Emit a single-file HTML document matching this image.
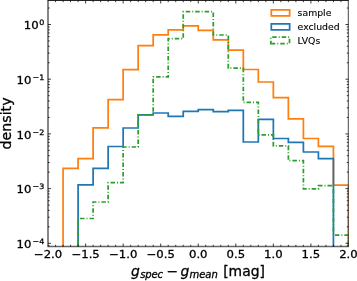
<!DOCTYPE html>
<html><head><meta charset="utf-8"><style>
html,body{margin:0;padding:0;background:#fff;width:357px;height:281px;overflow:hidden}
svg{display:block}
text{font-family:"DejaVu Sans","Liberation Sans",sans-serif;stroke:#000;stroke-width:0.3px}
</style></head><body><svg width="357" height="281" viewBox="0 0 357 281"><defs><clipPath id="ax"><rect x="48.0" y="0.5" width="300.5" height="246.0"/></clipPath></defs><g clip-path="url(#ax)" fill="none" stroke-width="1.74" stroke-linejoin="miter" stroke-linecap="butt"><path d="M63.07,260.00 L63.07,168.40 L78.09,168.40 L78.09,158.70 L93.11,158.70 L93.11,127.90 L108.13,127.90 L108.13,99.70 L123.15,99.70 L123.15,69.60 L138.17,69.60 L138.17,45.70 L153.19,45.70 L153.19,34.90 L168.21,34.90 L168.21,29.80 L183.23,29.80 L183.23,25.90 L198.25,25.90 L198.25,30.30 L213.27,30.30 L213.27,39.80 L228.29,39.80 L228.29,50.20 L243.31,50.20 L243.31,69.50 L258.33,69.50 L258.33,82.00 L273.35,82.00 L273.35,97.60 L288.37,97.60 L288.37,118.90 L303.39,118.90 L303.39,138.50 L318.41,138.50 L318.41,146.40 L333.43,146.40 L333.43,185.10 L348.45,185.10 L348.45,260.00" stroke="#ff7f0e"/><path d="M78.09,260.00 L78.09,184.80 L93.11,184.80 L93.11,168.40 L108.13,168.40 L108.13,146.50 L123.15,146.50 L123.15,128.00 L138.17,128.00 L138.17,114.90 L153.19,114.90 L153.19,113.00 L168.21,113.00 L168.21,116.30 L183.23,116.30 L183.23,111.30 L198.25,111.30 L198.25,109.70 L213.27,109.70 L213.27,111.60 L228.29,111.60 L228.29,110.40 L243.31,110.40 L243.31,142.00 L258.33,142.00 L258.33,119.30 L273.35,119.30 L273.35,138.50 L288.37,138.50 L288.37,142.40 L303.39,142.40 L303.39,152.00 L318.41,152.00 L318.41,158.70 L333.43,158.70 L333.43,260.00" stroke="#1f77b4"/><path d="M78.09,260.00 L78.09,218.50 L93.11,218.50 L93.11,202.00 L108.13,202.00 L108.13,182.70 L123.15,182.70 L123.15,147.00 L138.17,147.00 L138.17,114.90 L153.19,114.90 L153.19,76.80 L168.21,76.80 L168.21,38.60 L183.23,38.60 L183.23,11.70 L198.25,11.70 L198.25,11.70 L213.27,11.70 L213.27,35.00 L228.29,35.00 L228.29,68.20 L243.31,68.20 L243.31,102.40 L258.33,102.40 L258.33,134.80 L273.35,134.80 L273.35,145.90 L288.37,145.90 L288.37,160.70 L303.39,160.70 L303.39,188.80 L318.41,188.80 L318.41,185.70 L333.43,185.70 L333.43,235.10 L348.45,235.10 L348.45,260.00" stroke="#2ca02c" stroke-dasharray="4.5 1.99 1.0 1.98" stroke-dashoffset="3.94"/></g><g stroke="#000" stroke-opacity="0.8"><line x1="55.56" y1="246.5" x2="55.56" y2="244.80" stroke-width="0.95"/><line x1="55.56" y1="0.5" x2="55.56" y2="2.20" stroke-width="0.95"/><line x1="63.07" y1="246.5" x2="63.07" y2="244.80" stroke-width="0.95"/><line x1="63.07" y1="0.5" x2="63.07" y2="2.20" stroke-width="0.95"/><line x1="70.58" y1="246.5" x2="70.58" y2="244.80" stroke-width="0.95"/><line x1="70.58" y1="0.5" x2="70.58" y2="2.20" stroke-width="0.95"/><line x1="78.09" y1="246.5" x2="78.09" y2="244.80" stroke-width="0.95"/><line x1="78.09" y1="0.5" x2="78.09" y2="2.20" stroke-width="0.95"/><line x1="85.60" y1="246.5" x2="85.60" y2="243.50" stroke-width="0.95"/><line x1="85.60" y1="0.5" x2="85.60" y2="3.50" stroke-width="0.95"/><line x1="93.11" y1="246.5" x2="93.11" y2="244.80" stroke-width="0.95"/><line x1="93.11" y1="0.5" x2="93.11" y2="2.20" stroke-width="0.95"/><line x1="100.62" y1="246.5" x2="100.62" y2="244.80" stroke-width="0.95"/><line x1="100.62" y1="0.5" x2="100.62" y2="2.20" stroke-width="0.95"/><line x1="108.13" y1="246.5" x2="108.13" y2="244.80" stroke-width="0.95"/><line x1="108.13" y1="0.5" x2="108.13" y2="2.20" stroke-width="0.95"/><line x1="115.64" y1="246.5" x2="115.64" y2="244.80" stroke-width="0.95"/><line x1="115.64" y1="0.5" x2="115.64" y2="2.20" stroke-width="0.95"/><line x1="123.15" y1="246.5" x2="123.15" y2="243.50" stroke-width="0.95"/><line x1="123.15" y1="0.5" x2="123.15" y2="3.50" stroke-width="0.95"/><line x1="130.66" y1="246.5" x2="130.66" y2="244.80" stroke-width="0.95"/><line x1="130.66" y1="0.5" x2="130.66" y2="2.20" stroke-width="0.95"/><line x1="138.17" y1="246.5" x2="138.17" y2="244.80" stroke-width="0.95"/><line x1="138.17" y1="0.5" x2="138.17" y2="2.20" stroke-width="0.95"/><line x1="145.68" y1="246.5" x2="145.68" y2="244.80" stroke-width="0.95"/><line x1="145.68" y1="0.5" x2="145.68" y2="2.20" stroke-width="0.95"/><line x1="153.19" y1="246.5" x2="153.19" y2="244.80" stroke-width="0.95"/><line x1="153.19" y1="0.5" x2="153.19" y2="2.20" stroke-width="0.95"/><line x1="160.70" y1="246.5" x2="160.70" y2="243.50" stroke-width="0.95"/><line x1="160.70" y1="0.5" x2="160.70" y2="3.50" stroke-width="0.95"/><line x1="168.21" y1="246.5" x2="168.21" y2="244.80" stroke-width="0.95"/><line x1="168.21" y1="0.5" x2="168.21" y2="2.20" stroke-width="0.95"/><line x1="175.72" y1="246.5" x2="175.72" y2="244.80" stroke-width="0.95"/><line x1="175.72" y1="0.5" x2="175.72" y2="2.20" stroke-width="0.95"/><line x1="183.23" y1="246.5" x2="183.23" y2="244.80" stroke-width="0.95"/><line x1="183.23" y1="0.5" x2="183.23" y2="2.20" stroke-width="0.95"/><line x1="190.74" y1="246.5" x2="190.74" y2="244.80" stroke-width="0.95"/><line x1="190.74" y1="0.5" x2="190.74" y2="2.20" stroke-width="0.95"/><line x1="198.25" y1="246.5" x2="198.25" y2="243.50" stroke-width="0.95"/><line x1="198.25" y1="0.5" x2="198.25" y2="3.50" stroke-width="0.95"/><line x1="205.76" y1="246.5" x2="205.76" y2="244.80" stroke-width="0.95"/><line x1="205.76" y1="0.5" x2="205.76" y2="2.20" stroke-width="0.95"/><line x1="213.27" y1="246.5" x2="213.27" y2="244.80" stroke-width="0.95"/><line x1="213.27" y1="0.5" x2="213.27" y2="2.20" stroke-width="0.95"/><line x1="220.78" y1="246.5" x2="220.78" y2="244.80" stroke-width="0.95"/><line x1="220.78" y1="0.5" x2="220.78" y2="2.20" stroke-width="0.95"/><line x1="228.29" y1="246.5" x2="228.29" y2="244.80" stroke-width="0.95"/><line x1="228.29" y1="0.5" x2="228.29" y2="2.20" stroke-width="0.95"/><line x1="235.80" y1="246.5" x2="235.80" y2="243.50" stroke-width="0.95"/><line x1="235.80" y1="0.5" x2="235.80" y2="3.50" stroke-width="0.95"/><line x1="243.31" y1="246.5" x2="243.31" y2="244.80" stroke-width="0.95"/><line x1="243.31" y1="0.5" x2="243.31" y2="2.20" stroke-width="0.95"/><line x1="250.82" y1="246.5" x2="250.82" y2="244.80" stroke-width="0.95"/><line x1="250.82" y1="0.5" x2="250.82" y2="2.20" stroke-width="0.95"/><line x1="258.33" y1="246.5" x2="258.33" y2="244.80" stroke-width="0.95"/><line x1="258.33" y1="0.5" x2="258.33" y2="2.20" stroke-width="0.95"/><line x1="265.84" y1="246.5" x2="265.84" y2="244.80" stroke-width="0.95"/><line x1="265.84" y1="0.5" x2="265.84" y2="2.20" stroke-width="0.95"/><line x1="273.35" y1="246.5" x2="273.35" y2="243.50" stroke-width="0.95"/><line x1="273.35" y1="0.5" x2="273.35" y2="3.50" stroke-width="0.95"/><line x1="280.86" y1="246.5" x2="280.86" y2="244.80" stroke-width="0.95"/><line x1="280.86" y1="0.5" x2="280.86" y2="2.20" stroke-width="0.95"/><line x1="288.37" y1="246.5" x2="288.37" y2="244.80" stroke-width="0.95"/><line x1="288.37" y1="0.5" x2="288.37" y2="2.20" stroke-width="0.95"/><line x1="295.88" y1="246.5" x2="295.88" y2="244.80" stroke-width="0.95"/><line x1="295.88" y1="0.5" x2="295.88" y2="2.20" stroke-width="0.95"/><line x1="303.39" y1="246.5" x2="303.39" y2="244.80" stroke-width="0.95"/><line x1="303.39" y1="0.5" x2="303.39" y2="2.20" stroke-width="0.95"/><line x1="310.90" y1="246.5" x2="310.90" y2="243.50" stroke-width="0.95"/><line x1="310.90" y1="0.5" x2="310.90" y2="3.50" stroke-width="0.95"/><line x1="318.41" y1="246.5" x2="318.41" y2="244.80" stroke-width="0.95"/><line x1="318.41" y1="0.5" x2="318.41" y2="2.20" stroke-width="0.95"/><line x1="325.92" y1="246.5" x2="325.92" y2="244.80" stroke-width="0.95"/><line x1="325.92" y1="0.5" x2="325.92" y2="2.20" stroke-width="0.95"/><line x1="333.43" y1="246.5" x2="333.43" y2="244.80" stroke-width="0.95"/><line x1="333.43" y1="0.5" x2="333.43" y2="2.20" stroke-width="0.95"/><line x1="340.94" y1="246.5" x2="340.94" y2="244.80" stroke-width="0.95"/><line x1="340.94" y1="0.5" x2="340.94" y2="2.20" stroke-width="0.95"/><line x1="48.0" y1="245.80" x2="49.70" y2="245.80" stroke-width="0.95"/><line x1="348.5" y1="245.80" x2="346.80" y2="245.80" stroke-width="0.95"/><line x1="48.0" y1="243.30" x2="51.00" y2="243.30" stroke-width="0.95"/><line x1="348.5" y1="243.30" x2="345.50" y2="243.30" stroke-width="0.95"/><line x1="48.0" y1="226.83" x2="49.70" y2="226.83" stroke-width="0.95"/><line x1="348.5" y1="226.83" x2="346.80" y2="226.83" stroke-width="0.95"/><line x1="48.0" y1="217.20" x2="49.70" y2="217.20" stroke-width="0.95"/><line x1="348.5" y1="217.20" x2="346.80" y2="217.20" stroke-width="0.95"/><line x1="48.0" y1="210.37" x2="49.70" y2="210.37" stroke-width="0.95"/><line x1="348.5" y1="210.37" x2="346.80" y2="210.37" stroke-width="0.95"/><line x1="48.0" y1="205.07" x2="49.70" y2="205.07" stroke-width="0.95"/><line x1="348.5" y1="205.07" x2="346.80" y2="205.07" stroke-width="0.95"/><line x1="48.0" y1="200.74" x2="49.70" y2="200.74" stroke-width="0.95"/><line x1="348.5" y1="200.74" x2="346.80" y2="200.74" stroke-width="0.95"/><line x1="48.0" y1="197.07" x2="49.70" y2="197.07" stroke-width="0.95"/><line x1="348.5" y1="197.07" x2="346.80" y2="197.07" stroke-width="0.95"/><line x1="48.0" y1="193.90" x2="49.70" y2="193.90" stroke-width="0.95"/><line x1="348.5" y1="193.90" x2="346.80" y2="193.90" stroke-width="0.95"/><line x1="48.0" y1="191.10" x2="49.70" y2="191.10" stroke-width="0.95"/><line x1="348.5" y1="191.10" x2="346.80" y2="191.10" stroke-width="0.95"/><line x1="48.0" y1="188.60" x2="51.00" y2="188.60" stroke-width="0.95"/><line x1="348.5" y1="188.60" x2="345.50" y2="188.60" stroke-width="0.95"/><line x1="48.0" y1="172.13" x2="49.70" y2="172.13" stroke-width="0.95"/><line x1="348.5" y1="172.13" x2="346.80" y2="172.13" stroke-width="0.95"/><line x1="48.0" y1="162.50" x2="49.70" y2="162.50" stroke-width="0.95"/><line x1="348.5" y1="162.50" x2="346.80" y2="162.50" stroke-width="0.95"/><line x1="48.0" y1="155.67" x2="49.70" y2="155.67" stroke-width="0.95"/><line x1="348.5" y1="155.67" x2="346.80" y2="155.67" stroke-width="0.95"/><line x1="48.0" y1="150.37" x2="49.70" y2="150.37" stroke-width="0.95"/><line x1="348.5" y1="150.37" x2="346.80" y2="150.37" stroke-width="0.95"/><line x1="48.0" y1="146.04" x2="49.70" y2="146.04" stroke-width="0.95"/><line x1="348.5" y1="146.04" x2="346.80" y2="146.04" stroke-width="0.95"/><line x1="48.0" y1="142.37" x2="49.70" y2="142.37" stroke-width="0.95"/><line x1="348.5" y1="142.37" x2="346.80" y2="142.37" stroke-width="0.95"/><line x1="48.0" y1="139.20" x2="49.70" y2="139.20" stroke-width="0.95"/><line x1="348.5" y1="139.20" x2="346.80" y2="139.20" stroke-width="0.95"/><line x1="48.0" y1="136.40" x2="49.70" y2="136.40" stroke-width="0.95"/><line x1="348.5" y1="136.40" x2="346.80" y2="136.40" stroke-width="0.95"/><line x1="48.0" y1="133.90" x2="51.00" y2="133.90" stroke-width="0.95"/><line x1="348.5" y1="133.90" x2="345.50" y2="133.90" stroke-width="0.95"/><line x1="48.0" y1="117.43" x2="49.70" y2="117.43" stroke-width="0.95"/><line x1="348.5" y1="117.43" x2="346.80" y2="117.43" stroke-width="0.95"/><line x1="48.0" y1="107.80" x2="49.70" y2="107.80" stroke-width="0.95"/><line x1="348.5" y1="107.80" x2="346.80" y2="107.80" stroke-width="0.95"/><line x1="48.0" y1="100.97" x2="49.70" y2="100.97" stroke-width="0.95"/><line x1="348.5" y1="100.97" x2="346.80" y2="100.97" stroke-width="0.95"/><line x1="48.0" y1="95.67" x2="49.70" y2="95.67" stroke-width="0.95"/><line x1="348.5" y1="95.67" x2="346.80" y2="95.67" stroke-width="0.95"/><line x1="48.0" y1="91.34" x2="49.70" y2="91.34" stroke-width="0.95"/><line x1="348.5" y1="91.34" x2="346.80" y2="91.34" stroke-width="0.95"/><line x1="48.0" y1="87.67" x2="49.70" y2="87.67" stroke-width="0.95"/><line x1="348.5" y1="87.67" x2="346.80" y2="87.67" stroke-width="0.95"/><line x1="48.0" y1="84.50" x2="49.70" y2="84.50" stroke-width="0.95"/><line x1="348.5" y1="84.50" x2="346.80" y2="84.50" stroke-width="0.95"/><line x1="48.0" y1="81.70" x2="49.70" y2="81.70" stroke-width="0.95"/><line x1="348.5" y1="81.70" x2="346.80" y2="81.70" stroke-width="0.95"/><line x1="48.0" y1="79.20" x2="51.00" y2="79.20" stroke-width="0.95"/><line x1="348.5" y1="79.20" x2="345.50" y2="79.20" stroke-width="0.95"/><line x1="48.0" y1="62.73" x2="49.70" y2="62.73" stroke-width="0.95"/><line x1="348.5" y1="62.73" x2="346.80" y2="62.73" stroke-width="0.95"/><line x1="48.0" y1="53.10" x2="49.70" y2="53.10" stroke-width="0.95"/><line x1="348.5" y1="53.10" x2="346.80" y2="53.10" stroke-width="0.95"/><line x1="48.0" y1="46.27" x2="49.70" y2="46.27" stroke-width="0.95"/><line x1="348.5" y1="46.27" x2="346.80" y2="46.27" stroke-width="0.95"/><line x1="48.0" y1="40.97" x2="49.70" y2="40.97" stroke-width="0.95"/><line x1="348.5" y1="40.97" x2="346.80" y2="40.97" stroke-width="0.95"/><line x1="48.0" y1="36.64" x2="49.70" y2="36.64" stroke-width="0.95"/><line x1="348.5" y1="36.64" x2="346.80" y2="36.64" stroke-width="0.95"/><line x1="48.0" y1="32.97" x2="49.70" y2="32.97" stroke-width="0.95"/><line x1="348.5" y1="32.97" x2="346.80" y2="32.97" stroke-width="0.95"/><line x1="48.0" y1="29.80" x2="49.70" y2="29.80" stroke-width="0.95"/><line x1="348.5" y1="29.80" x2="346.80" y2="29.80" stroke-width="0.95"/><line x1="48.0" y1="27.00" x2="49.70" y2="27.00" stroke-width="0.95"/><line x1="348.5" y1="27.00" x2="346.80" y2="27.00" stroke-width="0.95"/><line x1="48.0" y1="24.50" x2="51.00" y2="24.50" stroke-width="0.95"/><line x1="348.5" y1="24.50" x2="345.50" y2="24.50" stroke-width="0.95"/><line x1="48.0" y1="8.03" x2="49.70" y2="8.03" stroke-width="0.95"/><line x1="348.5" y1="8.03" x2="346.80" y2="8.03" stroke-width="0.95"/></g><path d="M48.0,246.5 V0.5" fill="none" stroke="#000" stroke-width="0.95"/><path d="M47.5,0.5 H348.5" fill="none" stroke="#000" stroke-opacity="0.85" stroke-width="1.0"/><path d="M47.5,246.5 H348.5" fill="none" stroke="#000" stroke-opacity="0.6" stroke-width="1.3"/><path d="M348.3,0.0 V247.0" fill="none" stroke="#000" stroke-opacity="0.72" stroke-width="1.0"/><g fill="#000"><text x="48.05" y="258.45" text-anchor="middle" font-size="11.7" transform="matrix(1 0 0 0.93 0 18.091)">−2.0</text><text x="85.60" y="258.45" text-anchor="middle" font-size="11.7" transform="matrix(1 0 0 0.93 0 18.091)">−1.5</text><text x="123.15" y="258.45" text-anchor="middle" font-size="11.7" transform="matrix(1 0 0 0.93 0 18.091)">−1.0</text><text x="160.70" y="258.45" text-anchor="middle" font-size="11.7" transform="matrix(1 0 0 0.93 0 18.091)">−0.5</text><text x="198.25" y="258.45" text-anchor="middle" font-size="11.7" transform="matrix(1 0 0 0.93 0 18.091)">0.0</text><text x="235.80" y="258.45" text-anchor="middle" font-size="11.7" transform="matrix(1 0 0 0.93 0 18.091)">0.5</text><text x="273.35" y="258.45" text-anchor="middle" font-size="11.7" transform="matrix(1 0 0 0.93 0 18.091)">1.0</text><text x="310.90" y="258.45" text-anchor="middle" font-size="11.7" transform="matrix(1 0 0 0.93 0 18.091)">1.5</text><text x="348.45" y="258.45" text-anchor="middle" font-size="11.7" transform="matrix(1 0 0 0.93 0 18.091)">2.0</text><text x="44.4" y="29.26" text-anchor="end" font-size="11.7" transform="matrix(1 0 0 0.93 0 2.049)">10<tspan dx="0.6" dy="-4.5" font-size="8.00">0</tspan></text><text x="44.4" y="83.76" text-anchor="end" font-size="11.7" transform="matrix(1 0 0 0.93 0 5.864)">10<tspan dx="1.1" dy="-4.5" font-size="8.00">−1</tspan></text><text x="44.4" y="138.76" text-anchor="end" font-size="11.7" transform="matrix(1 0 0 0.93 0 9.714)">10<tspan dx="1.1" dy="-4.5" font-size="8.00">−2</tspan></text><text x="44.4" y="193.41" text-anchor="end" font-size="11.7" transform="matrix(1 0 0 0.93 0 13.539)">10<tspan dx="1.1" dy="-4.5" font-size="8.00">−3</tspan></text><text x="44.4" y="247.96" text-anchor="end" font-size="11.7" transform="matrix(1 0 0 0.93 0 17.358)">10<tspan dx="1.1" dy="-4.5" font-size="8.00">−4</tspan></text></g><text transform="translate(10.95,123.45) rotate(-90)" text-anchor="middle" font-size="14.2">density</text><text y="275.5" font-size="13.9"><tspan x="131.0" font-style="italic">g</tspan><tspan x="140.3" dy="2.1" font-style="italic" font-size="10.00" letter-spacing="-0.2">spec</tspan><tspan x="166.6" dy="-2.1">−</tspan><tspan x="180.6" font-style="italic">g</tspan><tspan x="189.4" dy="2.1" font-style="italic" font-size="10.00">mean</tspan><tspan x="223.2" dy="-2.1">[mag]</tspan></text><path d="M271.3,15.95 H289.65 V9.85 H271.3 Z" fill="none" stroke="#ff7f0e" stroke-width="1.74"/><text x="297.6" y="16.0" font-size="9.3" style="stroke-width:0.12px">sample</text><path d="M271.3,29.95 H289.65 V23.85 H271.3 Z" fill="none" stroke="#1f77b4" stroke-width="1.74"/><text x="297.6" y="30.0" font-size="9.3" style="stroke-width:0.12px">excluded</text><path d="M270.8,43.6 H289.5 V37.2 H270.8 Z" fill="none" stroke="#2ca02c" stroke-width="1.74" stroke-dasharray="4.5 1.99 1.0 1.98"/><text x="297.6" y="43.95" font-size="9.3" style="stroke-width:0.12px">LVQs</text></svg></body></html>
